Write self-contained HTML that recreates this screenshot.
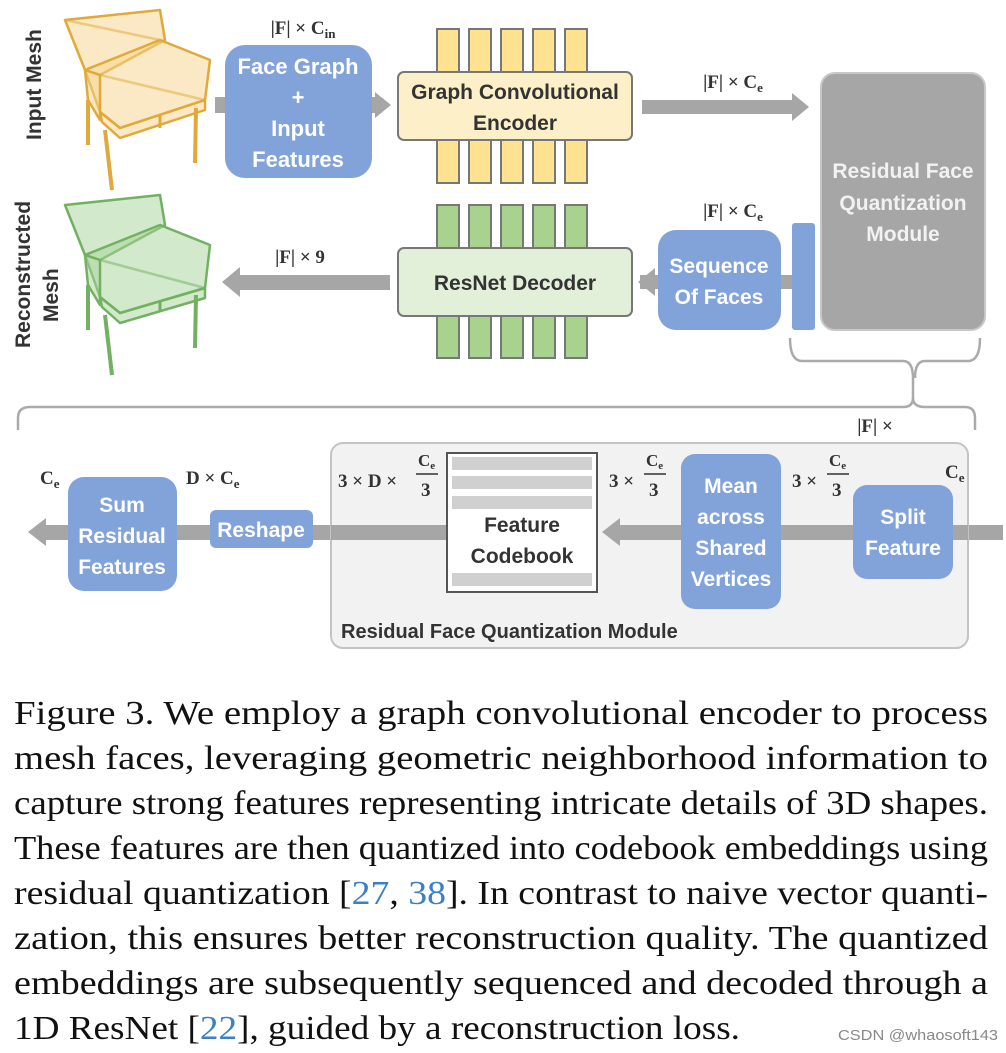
<!DOCTYPE html>
<html><head><meta charset="utf-8"><style>
html,body{margin:0;padding:0;background:#fff;}
svg{display:block;}
.sb{font-family:"Liberation Sans","DejaVu Sans",sans-serif;font-weight:bold;}
.m{font-family:"Liberation Serif",serif;font-weight:bold;font-size:19px;fill:#333;}
.cap{font-family:"Liberation Serif",serif;font-size:34px;fill:#111;}
</style></head><body>
<svg width="1006" height="1053" viewBox="0 0 1006 1053" xmlns="http://www.w3.org/2000/svg">
<!-- Input mesh chair -->
<g stroke="#e0a93a" stroke-width="2.5" fill="#f5d48a" fill-opacity="0.5" stroke-linejoin="round">
<polygon points="65,20 160,10 165,40 100,75 85,70"/>
<polygon points="85,70 160,40 210,60 205,100 120,128 100,112"/>
<polygon points="100,112 120,128 205,100 205,110 120,138 102,122"/>
<polygon points="85,70 100,75 100,120 88,100"/>
<line x1="105" y1="130" x2="112" y2="190" stroke-width="4"/><line x1="88" y1="100" x2="88" y2="145" stroke-width="4"/>
<line x1="196" y1="108" x2="195" y2="163" stroke-width="4"/><line x1="160" y1="115" x2="160" y2="128" stroke-width="3"/>
<line x1="65" y1="20" x2="160" y2="40" stroke-opacity=".5"/><line x1="100" y1="75" x2="205" y2="100" stroke-opacity=".5"/>
</g>
<!-- Reconstructed chair -->
<g stroke="#72b062" stroke-width="2.5" fill="#a7d39a" fill-opacity="0.5" stroke-linejoin="round">
<polygon points="65,205 160,195 165,225 100,260 85,255"/>
<polygon points="85,255 160,225 210,245 205,288 120,313 100,297"/>
<polygon points="100,297 120,313 205,288 205,298 120,323 102,307"/>
<polygon points="85,255 100,260 100,305 88,285"/>
<line x1="105" y1="315" x2="112" y2="375" stroke-width="4"/><line x1="88" y1="285" x2="88" y2="330" stroke-width="4"/>
<line x1="196" y1="295" x2="195" y2="348" stroke-width="4"/><line x1="160" y1="300" x2="160" y2="312" stroke-width="3"/>
<line x1="100" y1="260" x2="205" y2="288" stroke-opacity=".5"/>
</g>
<text class="sb" font-size="21" fill="#333" transform="translate(41,140) rotate(-90)">Input Mesh</text>
<text class="sb" font-size="21" fill="#333" transform="translate(30,348) rotate(-90)">Reconstructed</text>
<text class="sb" font-size="21" fill="#333" transform="translate(58,322) rotate(-90)">Mesh</text>

<!-- arrows -->
<g fill="#a6a6a6">
<rect x="215" y="97" width="165" height="16"/><polygon points="375,92 391,105 375,118"/>
<rect x="642" y="100" width="150" height="14"/><polygon points="792,93 809,107 792,121"/>
<rect x="640" y="275" width="160" height="14"/><polygon points="655,268 638,282 655,296"/>
<rect x="238" y="275" width="152" height="15"/><polygon points="240,267 222,282 240,297"/>
<rect x="45" y="525" width="958" height="15"/><polygon points="46,518 28,532 46,546"/>
</g>
<text class="m" x="303" y="34" text-anchor="middle">|F| × C<tspan font-size="13" dy="4">in</tspan></text>
<text class="m" x="733" y="88" text-anchor="middle">|F| × C<tspan font-size="13" dy="4">e</tspan></text>
<text class="m" x="733" y="217" text-anchor="middle">|F| × C<tspan font-size="13" dy="4">e</tspan></text>
<text class="m" x="300" y="263" text-anchor="middle">|F| × 9</text>

<rect x="225" y="45" width="147" height="133" rx="20" fill="#82a2da"/>
<g class="sb" font-size="22" fill="#fff" text-anchor="middle">
<text x="298" y="74">Face Graph</text><text x="298" y="105">+</text><text x="298" y="136">Input</text><text x="298" y="167">Features</text>
</g>

<!-- encoder -->
<g fill="#fde391" stroke="#777" stroke-width="2">
<rect x="437" y="29" width="22" height="154"/><rect x="469" y="29" width="22" height="154"/><rect x="501" y="29" width="22" height="154"/><rect x="533" y="29" width="22" height="154"/><rect x="565" y="29" width="22" height="154"/>
</g>
<rect x="398" y="72" width="234" height="68" rx="6" fill="#fdf0c8" stroke="#777" stroke-width="2"/>
<g class="sb" font-size="21" fill="#333" text-anchor="middle"><text x="515" y="99">Graph Convolutional</text><text x="515" y="130">Encoder</text></g>

<!-- decoder -->
<g fill="#a7d38f" stroke="#777" stroke-width="2">
<rect x="437" y="205" width="22" height="153"/><rect x="469" y="205" width="22" height="153"/><rect x="501" y="205" width="22" height="153"/><rect x="533" y="205" width="22" height="153"/><rect x="565" y="205" width="22" height="153"/>
</g>
<rect x="398" y="248" width="234" height="68" rx="6" fill="#e2efd9" stroke="#777" stroke-width="2"/>
<text class="sb" font-size="21" fill="#333" text-anchor="middle" x="515" y="290">ResNet Decoder</text>

<!-- RFQ module -->
<rect x="821" y="73" width="164" height="257" rx="14" fill="#a6a6a6" stroke="#c8c8c8" stroke-width="2"/>
<g class="sb" font-size="21" fill="#f2f2f2" text-anchor="middle"><text x="903" y="178">Residual Face</text><text x="903" y="210">Quantization</text><text x="903" y="241">Module</text></g>
<rect x="792" y="223" width="23" height="107" rx="3" fill="#82a2da"/>
<rect x="658" y="230" width="123" height="100" rx="18" fill="#82a2da"/>
<g class="sb" font-size="21" fill="#fff" text-anchor="middle"><text x="719" y="273">Sequence</text><text x="719" y="304">Of Faces</text></g>

<!-- braces -->
<g fill="none" stroke="#aaa" stroke-width="2.5">
<path d="M790,338 Q790,361 802,361 L903,361 Q913,361 913,378 L913,398 Q913,407 903,407 L30,407 Q18,407 18,418 L18,430"/>
<path d="M980,338 Q980,361 968,361 L925,361 Q915,361 915,378"/>
<path d="M913,398 Q913,407 925,407 L965,407 Q975,407 975,418 L975,430"/>
</g>
<text class="m" x="875" y="432" text-anchor="middle">|F| ×</text>

<!-- bottom module -->
<rect x="331" y="443" width="637" height="205" rx="12" fill="#f2f2f2" stroke="#c4c4c4" stroke-width="2"/>
<rect x="331" y="525" width="637" height="15" fill="#a6a6a6"/>
<rect x="597" y="525" width="20" height="15" fill="#f2f2f2"/>
<polygon points="620,518 602,532 620,546" fill="#a6a6a6"/>
<text class="sb" font-size="20" fill="#333" x="341" y="638">Residual Face Quantization Module</text>

<rect x="853" y="485" width="100" height="94" rx="14" fill="#82a2da"/>
<g class="sb" font-size="21" fill="#fff" text-anchor="middle"><text x="903" y="524">Split</text><text x="903" y="555">Feature</text></g>
<rect x="681" y="454" width="100" height="155" rx="14" fill="#82a2da"/>
<g class="sb" font-size="21" fill="#fff" text-anchor="middle"><text x="731" y="493">Mean</text><text x="731" y="524">across</text><text x="731" y="555">Shared</text><text x="731" y="586">Vertices</text></g>

<rect x="447" y="453" width="150" height="139" fill="#fff" stroke="#555" stroke-width="2"/>
<g fill="#d0d0d0"><rect x="452" y="457" width="140" height="13"/><rect x="452" y="476" width="140" height="13"/><rect x="452" y="496" width="140" height="13"/><rect x="452" y="573" width="140" height="13"/></g>
<g class="sb" font-size="21" fill="#333" text-anchor="middle"><text x="522" y="532">Feature</text><text x="522" y="563">Codebook</text></g>

<rect x="210" y="510" width="103" height="38" rx="6" fill="#82a2da"/>
<text class="sb" font-size="21" fill="#fff" text-anchor="middle" x="261" y="537">Reshape</text>
<rect x="68" y="477" width="109" height="114" rx="16" fill="#82a2da"/>
<g class="sb" font-size="21" fill="#fff" text-anchor="middle"><text x="122" y="512">Sum</text><text x="122" y="543">Residual</text><text x="122" y="574">Features</text></g>

<!-- bottom labels -->
<text class="m" x="40" y="484">C<tspan font-size="13" dy="4">e</tspan></text>
<text class="m" x="186" y="484">D × C<tspan font-size="13" dy="4">e</tspan></text>
<text class="m" x="945" y="478">C<tspan font-size="13" dy="4">e</tspan></text>
<g class="m">
<text x="338" y="487">3 × D ×</text><text x="418" y="466" font-size="17">C<tspan font-size="11" dy="3">e</tspan></text><line x1="416" y1="474" x2="438" y2="474" stroke="#333" stroke-width="1.5"/><text x="421" y="496">3</text>
<text x="609" y="487">3 ×</text><text x="646" y="466" font-size="17">C<tspan font-size="11" dy="3">e</tspan></text><line x1="644" y1="474" x2="666" y2="474" stroke="#333" stroke-width="1.5"/><text x="649" y="496">3</text>
<text x="792" y="487">3 ×</text><text x="829" y="466" font-size="17">C<tspan font-size="11" dy="3">e</tspan></text><line x1="827" y1="474" x2="849" y2="474" stroke="#333" stroke-width="1.5"/><text x="832" y="496">3</text>
</g>

<!-- caption -->
<g class="cap">
<text x="14" y="724" textLength="974" lengthAdjust="spacingAndGlyphs">Figure 3.  We employ a graph convolutional encoder to process</text>
<text x="14" y="769" textLength="974" lengthAdjust="spacingAndGlyphs">mesh faces, leveraging geometric neighborhood information to</text>
<text x="14" y="814" textLength="974" lengthAdjust="spacingAndGlyphs">capture strong features representing intricate details of 3D shapes.</text>
<text x="14" y="859" textLength="974" lengthAdjust="spacingAndGlyphs">These features are then quantized into codebook embeddings using</text>
<text x="14" y="904" textLength="974" lengthAdjust="spacingAndGlyphs">residual quantization [<tspan fill="#3b7fc4">27</tspan>, <tspan fill="#3b7fc4">38</tspan>].  In contrast to naive vector quanti-</text>
<text x="14" y="949" textLength="974" lengthAdjust="spacingAndGlyphs">zation, this ensures better reconstruction quality.  The quantized</text>
<text x="14" y="994" textLength="974" lengthAdjust="spacingAndGlyphs">embeddings are subsequently sequenced and decoded through a</text>
<text x="14" y="1039" textLength="726" lengthAdjust="spacingAndGlyphs">1D ResNet [<tspan fill="#3b7fc4">22</tspan>], guided by a reconstruction loss.</text>
</g>
<text x="998" y="1040" text-anchor="end" font-family="Liberation Sans,sans-serif" font-size="15" fill="#888" textLength="160" lengthAdjust="spacingAndGlyphs">CSDN @whaosoft143</text>
</svg>
</body></html>
